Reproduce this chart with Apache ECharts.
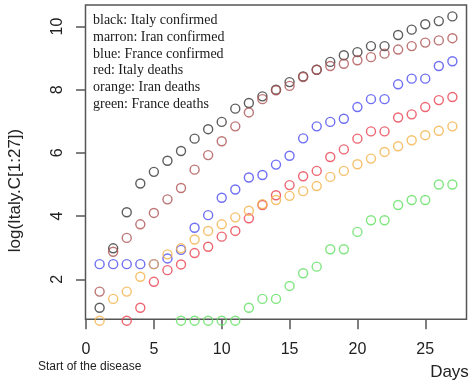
<!DOCTYPE html>
<html>
<head>
<meta charset="utf-8">
<script src="https://cdn.jsdelivr.net/npm/echarts@6/dist/echarts.min.js"></script>
<style>
html,body{margin:0;padding:0;background:#fff;}
#chart{width:474px;height:383px;}
</style>
</head>
<body>
<div id="chart"></div>
<script>
// ---- data ----
const days = [1,2,3,4,5,6,7,8,9,10,11,12,13,14,15,16,17,18,19,20,21,22,23,24,25,26,27];
const italyConfirmed = [1.10,2.98,4.12,5.03,5.40,5.75,6.06,6.45,6.75,6.98,7.40,7.58,7.79,8.00,8.24,8.42,8.63,8.88,9.09,9.19,9.38,9.38,9.73,9.90,10.07,10.17,10.32];
const iranConfirmed = [1.61,2.87,3.31,3.74,4.10,4.53,4.89,5.47,5.93,6.37,6.84,7.28,7.70,7.98,8.12,8.40,8.63,8.75,8.82,8.93,9.03,9.14,9.27,9.38,9.49,9.56,9.63];
const franceConfirmed = [2.48,2.48,2.48,2.48,2.48,2.66,2.93,3.63,4.03,4.58,4.84,5.22,5.30,5.63,5.91,6.46,6.84,6.98,7.08,7.45,7.70,7.70,8.17,8.35,8.35,8.75,8.90];
const italyDeaths = [null,null,0.69,1.10,1.92,2.29,2.47,2.83,3.03,3.35,3.53,3.93,4.35,4.66,4.98,5.26,5.43,5.87,6.11,6.45,6.68,6.68,7.12,7.22,7.45,7.67,7.77];
const iranDeaths = [0.69,1.38,1.61,2.08,2.48,2.79,2.98,3.26,3.53,3.74,3.96,4.17,4.38,4.51,4.64,4.79,4.95,5.24,5.43,5.64,5.82,6.03,6.21,6.40,6.56,6.70,6.84];
const franceDeaths = [null,null,null,null,null,null,0.69,0.69,0.69,0.69,0.69,1.10,1.38,1.38,1.79,2.19,2.40,2.95,2.95,3.50,3.87,3.87,4.35,4.51,4.51,5.00,5.00];

const xTicks = [0,5,10,15,20,25];
const yTicks = [2,4,6,8,10];
const legendLines = [
  'black: Italy confirmed',
  'marron: Iran confirmed',
  'blue: France confirmed',
  'red: Italy deaths',
  'orange: Iran deaths',
  'green: France deaths'
];
const yTitle = 'log(Italy.C[1:27])';
const xNote = 'Start of the disease';
const xTitle = 'Days';

// ---- styling ----
const seriesDefs = [
  {name: 'Italy confirmed', values: italyConfirmed, color: '#363636'},
  {name: 'Iran confirmed', values: iranConfirmed, color: '#ad5252'},
  {name: 'France confirmed', values: franceConfirmed, color: '#4b4bf0'},
  {name: 'Italy deaths', values: italyDeaths, color: '#e8404f'},
  {name: 'Iran deaths', values: iranDeaths, color: '#f4b24a'},
  {name: 'France deaths', values: franceDeaths, color: '#62e062'}
];

const axisGrey = '#555555';
const sansFont = '"Liberation Sans", Arial, sans-serif';
const serifFont = '"Liberation Serif", "Times New Roman", serif';

const series = seriesDefs.map(s => ({
  name: s.name,
  type: 'scatter',
  symbol: 'circle',
  symbolSize: 9,
  clip: false,
  itemStyle: {color: 'rgba(0,0,0,0)', borderColor: s.color, borderWidth: 1.4},
  emphasis: {disabled: true},
  data: days.map((d, i) => [d, s.values[i]]).filter(p => p[1] !== null)
}));

const graphic = [];
legendLines.forEach((t, i) => {
  graphic.push({
    type: 'text', x: 93, y: 20.7 + i * 16.7, silent: true,
    style: {text: t, font: '14px ' + serifFont, fill: '#1a1a1a', align: 'left', verticalAlign: 'middle'}
  });
});
graphic.push({
  type: 'text', x: 15, y: 190.5, rotation: Math.PI / 2, silent: true,
  style: {text: yTitle, font: '17px ' + sansFont, fill: '#222', align: 'center', verticalAlign: 'middle'}
});
graphic.push({
  type: 'text', x: 38, y: 366.5, silent: true,
  style: {text: xNote, font: '12px ' + sansFont, fill: '#222', align: 'left', verticalAlign: 'middle'}
});
graphic.push({
  type: 'text', x: 449.5, y: 372, silent: true,
  style: {text: xTitle, font: '17px ' + sansFont, fill: '#222', align: 'center', verticalAlign: 'middle'}
});

const chart = echarts.init(document.getElementById('chart'), null, {renderer: 'canvas'});
chart.setOption({
  animation: false,
  backgroundColor: '#ffffff',
  grid: {
    left: 85.5, right: 7.5, top: 5, bottom: 63.7,
    show: true, borderColor: axisGrey, borderWidth: 1.5, backgroundColor: 'rgba(0,0,0,0)'
  },
  xAxis: {
    type: 'value', min: -0.04, max: 28.04,
    splitLine: {show: false},
    axisLine: {show: false},
    axisTick: {show: true, length: 10, customValues: xTicks, lineStyle: {color: axisGrey, width: 1.5}},
    axisLabel: {customValues: xTicks, margin: 22, fontSize: 16, fontFamily: sansFont, color: '#222'}
  },
  yAxis: {
    type: 'value', min: 0.734, max: 10.68,
    splitLine: {show: false},
    axisLine: {show: false},
    axisTick: {show: true, length: 10, customValues: yTicks, lineStyle: {color: axisGrey, width: 1.5}},
    axisLabel: {customValues: yTicks, rotate: 90, margin: 20, fontSize: 16, fontFamily: sansFont, color: '#222'}
  },
  graphic: graphic,
  series: series
});
</script>
</body>
</html>
